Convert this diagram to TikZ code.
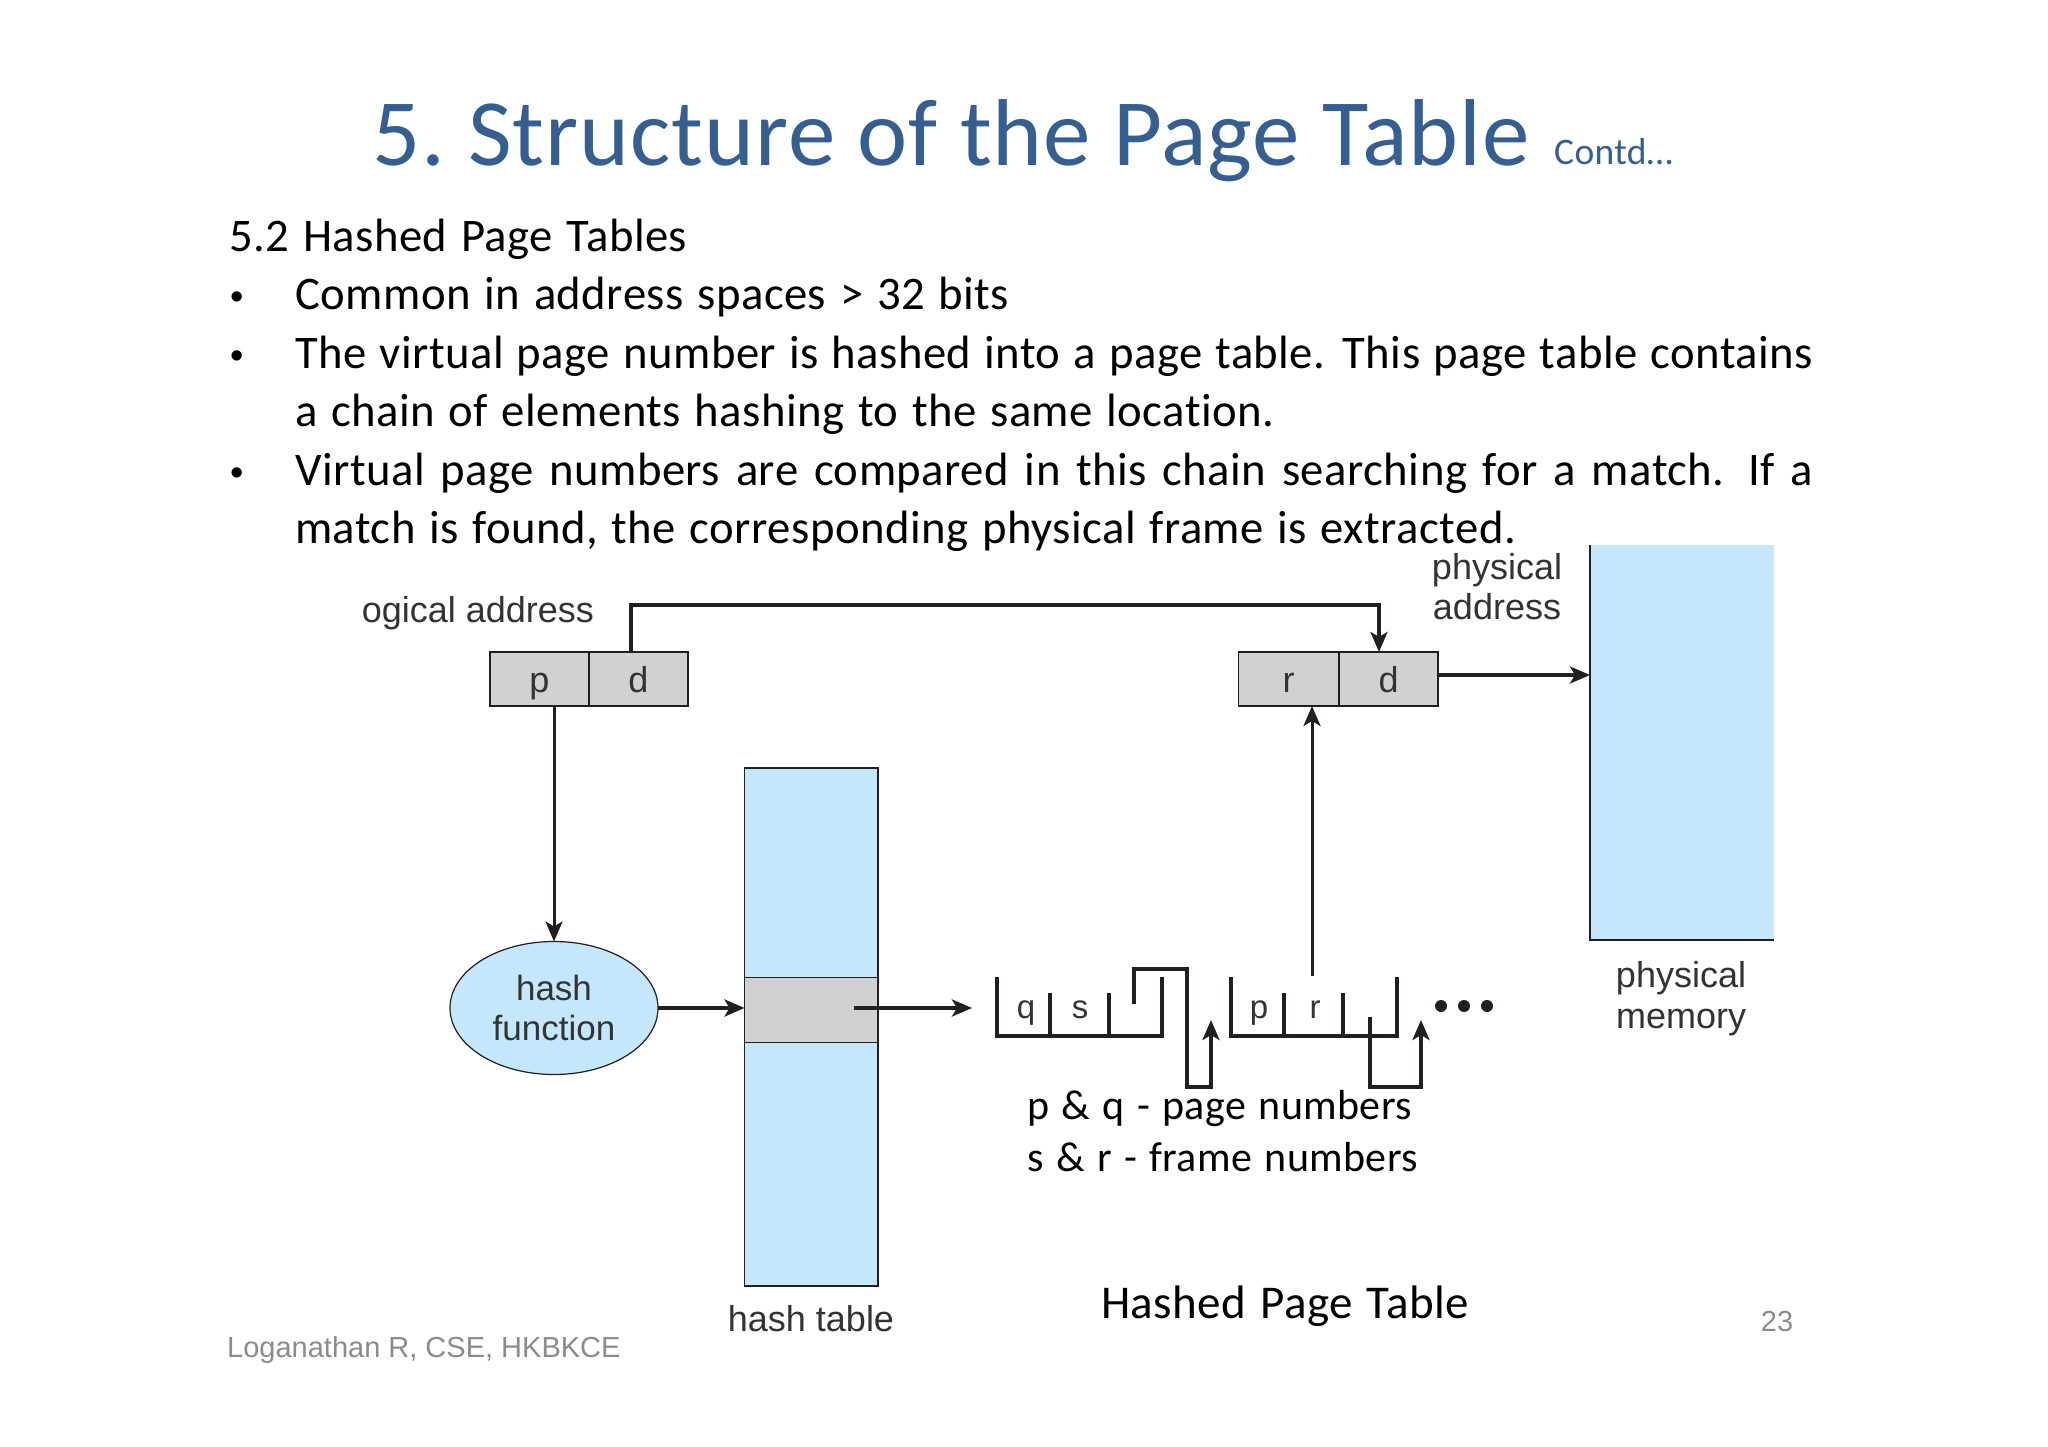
\documentclass[tikz,border=0pt]{standalone}
\usepackage{fontspec}
\setmainfont{Carlito}[LetterSpace=1.0,WordSpace=1.25,Ligatures=NoCommon]
\newfontfamily\titlef{Carlito}[LetterSpace=1.0,WordSpace=1.0,Ligatures=NoCommon]
\newfontfamily\arialf{Liberation Sans}
\usetikzlibrary{arrows.meta,shapes.geometric,positioning}
\definecolor{titleblue}{HTML}{365F91}
\definecolor{cellblue}{HTML}{C5E7FB}
\definecolor{cellgray}{HTML}{CFD1D2}
\definecolor{inktone}{HTML}{231F20}
\definecolor{labeltone}{HTML}{333333}
\definecolor{footgray}{HTML}{8C8C8C}
\tikzset{
  x=1pt,y=-1pt,
  bodytext/.style={anchor=base west,inner sep=0pt,font=\fontsize{46.7}{50}\selectfont,text=black},
  bulletmark/.style={anchor=base,inner sep=0pt,font=\arialf\fontsize{38}{40}\selectfont,text=black},
  figlabel/.style={inner sep=0pt,align=center,text=labeltone,font=\arialf\fontsize{36}{40.5}\selectfont},
  cell/.style={draw=inktone,line width=1.2pt,fill=cellgray,minimum height=54pt,inner sep=0pt,outer sep=0pt,
    text=labeltone,font=\arialf\fontsize{36}{36}\selectfont,text height=30pt,text depth=4pt},
  bluebar/.style={fill=cellblue,inner sep=0pt,outer sep=0pt},
  conn/.style={draw=inktone,line width=4pt,-{Stealth[length=20pt,width=17pt,inset=5pt]}},
  chainline/.style={draw=inktone,line width=4pt,line cap=rect},
}
\begin{document}
\begin{tikzpicture}
\useasboundingbox (0,0) rectangle (2048,1447);
\fill[white] (0,0) rectangle (2048,1447);
% title
\node[anchor=base west,inner sep=0pt,text=titleblue,font=\titlef\fontsize{95}{100}\selectfont] (title) at (372,166) {5.\kern-7pt{} Structure of the Page Table};
\node[anchor=base west,inner sep=0pt,text=titleblue,font=\fontsize{37.5}{40}\selectfont] (contd) at (1554,165) {Contd…};
% body
\node[bodytext] (h) at (229,252) {5.2 Hashed Page Tables};
\node[bulletmark] (b1) at (237,310) {•};
\node[bodytext] (l1) at (295,310) {Common in address spaces > 32 bits};
\node[bulletmark] (b2) at (237,368) {•};
\node[bodytext] (l2) at (295,368) {\hbox to 1518pt{The virtual page number is hashed into a page table. This page table contains}};
\node[bodytext] (l3) at (295,426) {a chain of elements hashing to the same location.};
\node[bulletmark] (b3) at (237,485) {•};
\node[bodytext] (l4) at (295,485) {\hbox to 1518pt{Virtual page numbers are compared in this chain searching for a match. If a}};
\node[bodytext] (l5) at (295,543) {match is found, the corresponding physical frame is extracted.};
% memory
\node[bluebar,minimum width=184pt,minimum height=395pt] (mem) at (1682,742.5) {};
\draw[inktone,line width=1.5pt] (mem.north west) -- (mem.south west) -- (mem.south east);
% hash table
\node[bluebar,draw=inktone,line width=1.2pt,minimum width=133.5pt,minimum height=518pt] (tbl) at (811.25,1027) {};
\node[draw=inktone,line width=1.2pt,fill=cellgray,inner sep=0pt,outer sep=0pt,minimum width=133.5pt,minimum height=65pt] (slot) at (811.25,1010) {};
% address boxes
\node[cell,minimum width=99pt] (lp) at (539.5,679) {p};
\node[cell,minimum width=99pt] (ld) at (638.5,679) {d};
\node[cell,minimum width=100pt] (pr) at (1288.5,679) {r};
\node[cell,minimum width=99pt] (pd) at (1388.5,679) {d};
% hash fn
\node[ellipse,draw=inktone,line width=1.2pt,fill=cellblue,minimum width=208pt,minimum height=133pt,inner sep=0pt,outer sep=0pt,
  align=center,text=labeltone,font=\arialf\fontsize{35}{40.5}\selectfont] (hf) at (554,1008) {hash\\function};
% labels
\node[figlabel,anchor=base] (la) at (478,622) {ogical address};
\node[figlabel,anchor=base] (pa1) at (1497,579) {physical};
\node[figlabel,anchor=base] (pa2) at (1497,619) {address};
\node[figlabel,anchor=base] (pm1) at (1681,987) {physical};
\node[figlabel,anchor=base] (pm2) at (1681,1028) {memory};
\node[figlabel,anchor=base] (ht) at (811,1331) {hash table};
\node[bodytext,font=\fontsize{42}{48}\selectfont] (n1) at (1027,1119) {p \& q - page numbers};
\node[bodytext,font=\fontsize{42}{48}\selectfont] (n2) at (1027,1171) {s \& r - frame numbers};
\node[bodytext,font=\fontsize{47}{50}\selectfont] (cap) at (1101,1318) {Hashed Page Table};
\node[anchor=base west,inner sep=0pt,text=footgray,font=\arialf\fontsize{29}{32}\selectfont] (foot) at (227,1357) {Loganathan R, CSE, HKBKCE};
\node[anchor=base,inner sep=0pt,text=footgray,font=\arialf\fontsize{29}{32}\selectfont] (pg) at (1777,1331) {23};
% chain coordinates
\coordinate (c1out) at (854,1008);
\coordinate (c1tip) at (972,1008);
\coordinate (ft) at (1312,976);
% connectors
\draw[conn,line width=3pt] (lp.south -| hf.north) -- (hf.north);
\draw[conn] (hf.east) -- (tbl.west |- hf.east);
\draw[conn] (c1out) -- (c1tip);
\draw[conn,line width=3pt] (ft) -- (ft |- pr.south);
\draw[conn] (ld.north -| 631,0) -- (631,605) -- (1379,605) -- (pd.north -| 1379,0);
\draw[conn] (pd.east |- 0,675) -- (mem.west |- 0,675);
% chain elements
\draw[chainline] (997,979) -- (997,1036) -- (1162,1036) -- (1162,979);
\draw[chainline] (1050,995) -- (1050,1036) (1109,995) -- (1109,1036);
\draw[chainline] (1231,979) -- (1231,1036) -- (1397,1036) -- (1397,979);
\draw[chainline] (1284,995) -- (1284,1036) (1343,995) -- (1343,1036);
\draw[conn] (1134,1004) -- (1134,969) -- (1187,969) -- (1187,1087) -- (1211,1087) -- (1211,1020);
\draw[conn] (1370,1017) -- (1370,1087) -- (1421,1087) -- (1421,1020);
\node[figlabel,anchor=base,font=\arialf\fontsize{33}{36}\selectfont] (q) at (1026,1018) {q};
\node[figlabel,anchor=base,font=\arialf\fontsize{33}{36}\selectfont] (s) at (1080,1018) {s};
\node[figlabel,anchor=base,font=\arialf\fontsize{33}{36}\selectfont] (p) at (1259,1018) {p};
\node[figlabel,anchor=base,font=\arialf\fontsize{33}{36}\selectfont] (r) at (1315,1018) {r};
\foreach \dx in {1441,1464,1487} \fill[inktone] (\dx,1006) circle (6pt);
\end{tikzpicture}
\end{document}
